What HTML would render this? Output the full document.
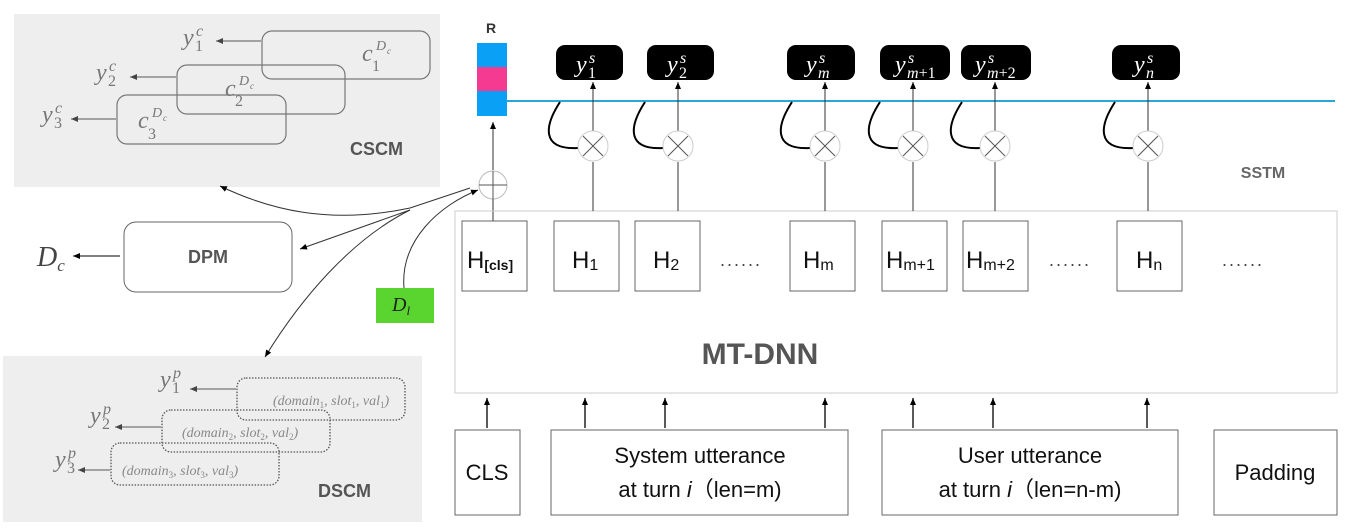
<!DOCTYPE html>
<html><head><meta charset="utf-8"><style>
html,body{margin:0;padding:0;background:#fff;}
svg{display:block;}
.sf{font-family:"Liberation Serif",serif;font-style:italic;}
.ss{font-family:"Liberation Sans",sans-serif;}
</style></head><body>
<svg width="1345" height="530" viewBox="0 0 1345 530" xmlns="http://www.w3.org/2000/svg">
<defs>
<marker id="a" markerWidth="8" markerHeight="8" refX="7" refY="4" orient="auto" markerUnits="userSpaceOnUse"><path d="M0,1 L7,4 L0,7 Z" fill="#000"/></marker>
<marker id="a2" markerWidth="8" markerHeight="8" refX="7" refY="4" orient="auto" markerUnits="userSpaceOnUse"><path d="M0,1 L7,4 L0,7 Z" fill="#444"/></marker>
</defs>
<!-- CSCM -->
<rect x="14" y="14" width="426" height="173" fill="#eeeeee"/>
<g fill="none" stroke="#777" stroke-width="1.2">
<rect x="262" y="31" width="168" height="48" rx="10"/>
<rect x="177" y="65" width="168" height="49" rx="10"/>
<rect x="117" y="95" width="169" height="49" rx="10"/>
</g>
<g stroke="#555" stroke-width="1" marker-end="url(#a2)">
<line x1="261" y1="41" x2="216" y2="41"/>
<line x1="176" y1="77" x2="130" y2="77"/>
<line x1="116" y1="119" x2="71" y2="119"/>
</g>
<g class="sf" fill="#777" font-size="24">
<text x="183" y="45">y</text><text x="196" y="36" font-size="16">c</text><text x="195" y="51" font-size="16" font-style="normal">1</text>
<text x="96" y="80">y</text><text x="109" y="71" font-size="16">c</text><text x="108" y="86" font-size="16" font-style="normal">2</text>
<text x="42" y="122">y</text><text x="55" y="113" font-size="16">c</text><text x="54" y="128" font-size="16" font-style="normal">3</text>
<text x="362" y="61">c</text><text x="376" y="50" font-size="14">D</text><text x="387" y="54" font-size="9">c</text><text x="372" y="71" font-size="16" font-style="normal">1</text>
<text x="225" y="96">c</text><text x="239" y="85" font-size="14">D</text><text x="250" y="89" font-size="9">c</text><text x="235" y="106" font-size="16" font-style="normal">2</text>
<text x="138" y="128">c</text><text x="152" y="117" font-size="14">D</text><text x="163" y="121" font-size="9">c</text><text x="148" y="139" font-size="16" font-style="normal">3</text>
</g>
<text x="350" y="155" class="ss" font-weight="bold" font-size="18" fill="#555">CSCM</text>
<!-- DSCM -->
<rect x="3" y="356" width="419" height="166" fill="#eeeeee"/>
<g fill="none" stroke="#555" stroke-width="1.3" stroke-dasharray="1.5,1.5">
<rect x="237" y="378" width="168" height="42" rx="9"/>
<rect x="162" y="410" width="168" height="42" rx="9"/>
<rect x="111" y="443" width="168" height="42" rx="9"/>
</g>
<g stroke="#555" stroke-width="1" marker-end="url(#a2)">
<line x1="236" y1="389" x2="190" y2="389"/>
<line x1="161" y1="427" x2="115" y2="427"/>
<line x1="110" y1="470" x2="78" y2="470"/>
</g>
<g class="sf" fill="#777" font-size="24">
<text x="160" y="387">y</text><text x="173" y="378" font-size="16">p</text><text x="172" y="393" font-size="16" font-style="normal">1</text>
<text x="90" y="423">y</text><text x="103" y="414" font-size="16">p</text><text x="102" y="429" font-size="16" font-style="normal">2</text>
<text x="55" y="467">y</text><text x="68" y="458" font-size="16">p</text><text x="67" y="473" font-size="16" font-style="normal">3</text>
</g>
<g class="sf" fill="#888" font-size="14">
<text x="273" y="405">(domain<tspan font-size="9" font-style="normal" dy="3">1</tspan><tspan dy="-3">, slot</tspan><tspan font-size="9" font-style="normal" dy="3">1</tspan><tspan dy="-3">, val</tspan><tspan font-size="9" font-style="normal" dy="3">1</tspan><tspan dy="-3">)</tspan></text>
<text x="182" y="437">(domain<tspan font-size="9" font-style="normal" dy="3">2</tspan><tspan dy="-3">, slot</tspan><tspan font-size="9" font-style="normal" dy="3">2</tspan><tspan dy="-3">, val</tspan><tspan font-size="9" font-style="normal" dy="3">2</tspan><tspan dy="-3">)</tspan></text>
<text x="122" y="475">(domain<tspan font-size="9" font-style="normal" dy="3">3</tspan><tspan dy="-3">, slot</tspan><tspan font-size="9" font-style="normal" dy="3">3</tspan><tspan dy="-3">, val</tspan><tspan font-size="9" font-style="normal" dy="3">3</tspan><tspan dy="-3">)</tspan></text>
</g>
<text x="318" y="497" class="ss" font-weight="bold" font-size="18" fill="#555">DSCM</text>
<!-- DPM -->
<rect x="124" y="222" width="168" height="70" rx="12" fill="#fff" stroke="#666" stroke-width="1"/>
<text x="208" y="263" class="ss" font-weight="bold" font-size="18" fill="#555" text-anchor="middle">DPM</text>
<line x1="120" y1="256" x2="73" y2="256" stroke="#000" marker-end="url(#a)"/>
<text x="37" y="266" class="sf" font-size="28" fill="#444">D<tspan font-size="17" dy="5">c</tspan></text>
<!-- Dl -->
<rect x="376" y="288" width="58" height="35" fill="#5ad52f"/>
<text x="392" y="311" class="sf" font-size="20" fill="#222">D<tspan font-size="13" dy="4">l</tspan></text>
<!-- connectors -->
<g fill="none" stroke="#333" stroke-width="1">
<line x1="410" y1="208" x2="470" y2="188"/>
<path d="M410,208 C330,225 270,210 220,186" marker-end="url(#a)"/>
<line x1="410" y1="210" x2="300" y2="249" marker-end="url(#a)"/>
<path d="M410,210 C350,240 300,300 265,357" marker-end="url(#a)"/>
<path d="M404,288 C400,240 440,205 478,190" marker-end="url(#a)"/>
</g>
<!-- plus -->
<circle cx="493" cy="185" r="14" fill="#fff" stroke="#bbb"/>
<line x1="479" y1="185" x2="507" y2="185" stroke="#555"/><line x1="493" y1="171" x2="493" y2="199" stroke="#555"/>
<line x1="493" y1="221" x2="493" y2="199" stroke="#333"/>
<line x1="493" y1="170" x2="493" y2="122" stroke="#333" marker-end="url(#a)"/>
<!-- R bar -->
<text x="491" y="33" class="ss" font-weight="bold" font-size="14" fill="#333" text-anchor="middle">R</text>
<rect x="477" y="43" width="30" height="24" fill="#0aa0f6"/>
<rect x="477" y="67" width="30" height="24" fill="#f53a92"/>
<rect x="477" y="91" width="30" height="25" fill="#0aa0f6"/>
<line x1="507" y1="101" x2="1335" y2="101" stroke="#2aa7d8" stroke-width="2"/>
<!-- MT-DNN box -->
<rect x="455" y="211" width="882" height="182" fill="none" stroke="#ccc" stroke-width="1"/>
<text x="760" y="364" class="ss" font-weight="bold" font-size="30" fill="#555" text-anchor="middle">MT-DNN</text>
<text x="1263" y="178" class="ss" font-weight="bold" font-size="16" fill="#666" text-anchor="middle">SSTM</text>
<g fill="#000">
<rect x="556" y="45" width="67" height="35" rx="9"/>
<rect x="647" y="45" width="67" height="35" rx="9"/>
<rect x="787" y="45" width="68" height="35" rx="9"/>
<rect x="880" y="45" width="70" height="35" rx="9"/>
<rect x="961" y="45" width="70" height="35" rx="9"/>
<rect x="1112" y="45" width="68" height="35" rx="9"/>
</g>
<g class="sf" fill="#fff" font-size="24">
<text x="576" y="72">y</text><text x="589" y="63" font-size="16">s</text><text x="588" y="78" font-size="16" font-style="normal">1</text>
<text x="667" y="72">y</text><text x="680" y="63" font-size="16">s</text><text x="679" y="78" font-size="16" font-style="normal">2</text>
<text x="806" y="72">y</text><text x="819" y="63" font-size="16">s</text><text x="818" y="78" font-size="16">m</text>
<text x="895" y="72">y</text><text x="908" y="63" font-size="16">s</text><text x="907" y="78" font-size="16">m<tspan font-style="normal">+1</tspan></text>
<text x="975" y="72">y</text><text x="988" y="63" font-size="16">s</text><text x="987" y="78" font-size="16">m<tspan font-style="normal">+2</tspan></text>
<text x="1134" y="72">y</text><text x="1147" y="63" font-size="16">s</text><text x="1146" y="78" font-size="16">n</text>
</g>
<g stroke="#000" fill="none">
<path d="M560,102 C545,125 540,150 578,148" stroke-width="2"/>
<path d="M645,102 C630,125 625,150 663,148" stroke-width="2"/>
<path d="M792,102 C777,125 772,150 810,148" stroke-width="2"/>
<path d="M880,102 C865,125 860,150 898,148" stroke-width="2"/>
<path d="M962,102 C947,125 942,150 980,148" stroke-width="2"/>
<path d="M1115,102 C1100,125 1095,150 1133,148" stroke-width="2"/>
</g>
<g stroke="#333" stroke-width="1">
<line x1="593" y1="131" x2="593" y2="82" marker-end="url(#a)"/><line x1="593" y1="162" x2="593" y2="211"/>
<line x1="678" y1="131" x2="678" y2="82" marker-end="url(#a)"/><line x1="678" y1="162" x2="678" y2="211"/>
<line x1="825" y1="131" x2="825" y2="82" marker-end="url(#a)"/><line x1="825" y1="162" x2="825" y2="211"/>
<line x1="913" y1="131" x2="913" y2="82" marker-end="url(#a)"/><line x1="913" y1="162" x2="913" y2="211"/>
<line x1="995" y1="131" x2="995" y2="82" marker-end="url(#a)"/><line x1="995" y1="162" x2="995" y2="211"/>
<line x1="1148" y1="131" x2="1148" y2="82" marker-end="url(#a)"/><line x1="1148" y1="162" x2="1148" y2="211"/>
</g>
<g fill="#fff" stroke="#ccc">
<circle cx="593" cy="146" r="15"/><circle cx="678" cy="146" r="15"/><circle cx="825" cy="146" r="15"/>
<circle cx="913" cy="146" r="15"/><circle cx="995" cy="146" r="15"/><circle cx="1148" cy="146" r="15"/>
</g>
<g stroke="#555" stroke-width="1">
<path d="M583,136 L603,156 M603,136 L583,156"/>
<path d="M668,136 L688,156 M688,136 L668,156"/>
<path d="M815,136 L835,156 M835,136 L815,156"/>
<path d="M903,136 L923,156 M923,136 L903,156"/>
<path d="M985,136 L1005,156 M1005,136 L985,156"/>
<path d="M1138,136 L1158,156 M1158,136 L1138,156"/>
</g>
<!-- H boxes -->
<g fill="#fff" stroke="#666" stroke-width="1">
<rect x="462" y="221" width="65" height="70"/>
<rect x="554" y="221" width="65" height="70"/>
<rect x="635" y="221" width="65" height="70"/>
<rect x="790" y="221" width="65" height="70"/>
<rect x="882" y="221" width="65" height="70"/>
<rect x="963" y="221" width="65" height="70"/>
<rect x="1117" y="221" width="65" height="70"/>
</g>
<g class="ss" font-size="24" fill="#111">
<text x="467" y="268">H<tspan font-size="14" font-weight="bold" dy="2">[cls]</tspan></text>
<text x="572" y="268">H<tspan font-size="16" dy="2">1</tspan></text>
<text x="653" y="268">H<tspan font-size="16" dy="2">2</tspan></text>
<text x="803" y="268">H<tspan font-size="16" dy="2">m</tspan></text>
<text x="886" y="268">H<tspan font-size="16" dy="2">m+1</tspan></text>
<text x="966" y="268">H<tspan font-size="16" dy="2">m+2</tspan></text>
<text x="1136" y="268">H<tspan font-size="16" dy="2">n</tspan></text>
</g>
<g class="ss" font-size="18" fill="#444" letter-spacing="2">
<text x="720" y="266">......</text><text x="1049" y="266">......</text><text x="1222" y="266">......</text>
</g>
<!-- bottom -->
<g stroke="#000" stroke-width="1.3">
<line x1="487" y1="428" x2="487" y2="398" marker-end="url(#a)"/>
<line x1="585" y1="428" x2="585" y2="398" marker-end="url(#a)"/>
<line x1="665" y1="428" x2="665" y2="398" marker-end="url(#a)"/>
<line x1="825" y1="428" x2="825" y2="398" marker-end="url(#a)"/>
<line x1="913" y1="428" x2="913" y2="398" marker-end="url(#a)"/>
<line x1="993" y1="428" x2="993" y2="398" marker-end="url(#a)"/>
<line x1="1147" y1="428" x2="1147" y2="398" marker-end="url(#a)"/>
</g>
<g fill="#fff" stroke="#666" stroke-width="1">
<rect x="455" y="430" width="65" height="85"/>
<rect x="551" y="430" width="297" height="85"/>
<rect x="882" y="430" width="296" height="85"/>
<rect x="1214" y="430" width="123" height="85"/>
</g>
<g class="ss" font-size="22" fill="#111" text-anchor="middle">
<text x="487" y="480">CLS</text>
<text x="700" y="463">System utterance</text>
<text x="700" y="497">at turn <tspan font-style="italic">i</tspan>（len=m)</text>
<text x="1030" y="463">User utterance</text>
<text x="1030" y="497">at turn <tspan font-style="italic">i</tspan>（len=n-m)</text>
<text x="1275" y="480">Padding</text>
</g>
</svg>
</body></html>
